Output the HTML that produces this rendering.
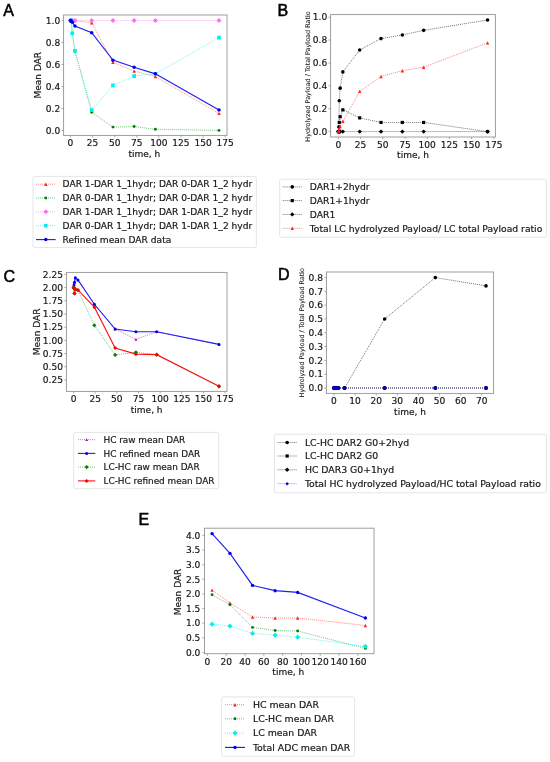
<!DOCTYPE html>
<html lang="en"><head><meta charset="utf-8"><title>Figure</title>
<style>
html,body{margin:0;padding:0;background:#fff;}
body{width:550px;height:762px;overflow:hidden;}
svg{display:block;font-family:"DejaVu Sans", "Liberation Sans", sans-serif;}
svg text{stroke:#1a1a1a;stroke-width:0.18px;}
</style></head><body>
<svg width="550" height="762" viewBox="0 0 550 762">
<rect width="550" height="762" fill="#fff"/>
<g>
<text x="3.3" y="16.1" font-family='"Liberation Sans", sans-serif' font-size="16" fill="#000" style="stroke:#000;stroke-width:0.55px">A</text>
<clipPath id="cA"><rect x="63.6" y="15" width="163.4" height="120.4"/></clipPath>
<polyline points="70.50,20.60 70.94,20.60 71.38,20.60 72.27,20.60 74.92,20.60 91.72,22.80 112.93,62.32 134.15,71.11 155.36,76.60 219.01,113.38" fill="none" stroke="#ff2020" stroke-width="0.7" stroke-dasharray="1 1" stroke-opacity="0.75"/>
<path d="M70.50 18.90L72.20 22.30L68.80 22.30Z" fill="#ff2020"/>
<path d="M70.94 18.90L72.64 22.30L69.24 22.30Z" fill="#ff2020"/>
<path d="M71.38 18.90L73.08 22.30L69.68 22.30Z" fill="#ff2020"/>
<path d="M72.27 18.90L73.97 22.30L70.57 22.30Z" fill="#ff2020"/>
<path d="M74.92 18.90L76.62 22.30L73.22 22.30Z" fill="#ff2020"/>
<path d="M91.72 21.10L93.42 24.50L90.02 24.50Z" fill="#ff2020"/>
<path d="M112.93 60.62L114.63 64.02L111.23 64.02Z" fill="#ff2020"/>
<path d="M134.15 69.41L135.85 72.81L132.45 72.81Z" fill="#ff2020"/>
<path d="M155.36 74.90L157.06 78.30L153.66 78.30Z" fill="#ff2020"/>
<path d="M219.01 111.68L220.71 115.08L217.31 115.08Z" fill="#ff2020"/>
<polyline points="70.50,20.60 70.94,20.60 71.38,20.60 72.27,33.78 74.92,51.34 91.72,112.28 112.93,127.11 134.15,126.56 155.36,129.30 219.01,130.40" fill="none" stroke="#109020" stroke-width="0.7" stroke-dasharray="1 1" stroke-opacity="0.8"/>
<circle cx="70.50" cy="20.60" r="1.45" fill="#008000"/>
<circle cx="70.94" cy="20.60" r="1.45" fill="#008000"/>
<circle cx="71.38" cy="20.60" r="1.45" fill="#008000"/>
<circle cx="72.27" cy="33.78" r="1.45" fill="#008000"/>
<circle cx="74.92" cy="51.34" r="1.45" fill="#008000"/>
<circle cx="91.72" cy="112.28" r="1.45" fill="#008000"/>
<circle cx="112.93" cy="127.11" r="1.45" fill="#008000"/>
<circle cx="134.15" cy="126.56" r="1.45" fill="#008000"/>
<circle cx="155.36" cy="129.30" r="1.45" fill="#008000"/>
<circle cx="219.01" cy="130.40" r="1.45" fill="#008000"/>
<polyline points="70.50,20.60 70.94,20.60 71.38,20.60 72.27,20.60 74.92,20.60 91.72,20.60 112.93,20.60 134.15,20.60 155.36,20.60 219.01,20.60" fill="none" stroke="#ff70ee" stroke-width="0.7" stroke-dasharray="1 1" stroke-opacity="0.8"/>
<path d="M70.50 18.10L73.00 20.60L70.50 23.10L68.00 20.60Z" fill="#ff6cf0"/>
<path d="M70.94 18.10L73.44 20.60L70.94 23.10L68.44 20.60Z" fill="#ff6cf0"/>
<path d="M71.38 18.10L73.88 20.60L71.38 23.10L68.88 20.60Z" fill="#ff6cf0"/>
<path d="M72.27 18.10L74.77 20.60L72.27 23.10L69.77 20.60Z" fill="#ff6cf0"/>
<path d="M74.92 18.10L77.42 20.60L74.92 23.10L72.42 20.60Z" fill="#ff6cf0"/>
<path d="M91.72 18.10L94.22 20.60L91.72 23.10L89.22 20.60Z" fill="#ff6cf0"/>
<path d="M112.93 18.10L115.43 20.60L112.93 23.10L110.43 20.60Z" fill="#ff6cf0"/>
<path d="M134.15 18.10L136.65 20.60L134.15 23.10L131.65 20.60Z" fill="#ff6cf0"/>
<path d="M155.36 18.10L157.86 20.60L155.36 23.10L152.86 20.60Z" fill="#ff6cf0"/>
<path d="M219.01 18.10L221.51 20.60L219.01 23.10L216.51 20.60Z" fill="#ff6cf0"/>
<polyline points="70.50,20.60 70.94,20.60 71.38,20.60 72.27,33.23 74.92,50.80 91.72,110.09 112.93,85.38 134.15,76.05 155.36,73.85 219.01,37.62" fill="none" stroke="#20f0f0" stroke-width="0.7" stroke-dasharray="1 1" stroke-opacity="0.9"/>
<rect x="68.65" y="18.75" width="3.70" height="3.70" fill="#00f0f0"/>
<rect x="69.09" y="18.75" width="3.70" height="3.70" fill="#00f0f0"/>
<rect x="69.53" y="18.75" width="3.70" height="3.70" fill="#00f0f0"/>
<rect x="70.42" y="31.38" width="3.70" height="3.70" fill="#00f0f0"/>
<rect x="73.07" y="48.95" width="3.70" height="3.70" fill="#00f0f0"/>
<rect x="89.87" y="108.24" width="3.70" height="3.70" fill="#00f0f0"/>
<rect x="111.08" y="83.53" width="3.70" height="3.70" fill="#00f0f0"/>
<rect x="132.30" y="74.20" width="3.70" height="3.70" fill="#00f0f0"/>
<rect x="153.51" y="72.00" width="3.70" height="3.70" fill="#00f0f0"/>
<rect x="217.16" y="35.77" width="3.70" height="3.70" fill="#00f0f0"/>
<polyline points="70.50,20.60 70.94,20.60 71.38,21.15 72.27,22.25 74.92,26.09 91.72,32.68 112.93,60.13 134.15,67.27 155.36,73.85 219.01,110.09" fill="none" stroke="#1c1cf0" stroke-width="1.1" stroke-opacity="1"/>
<circle cx="70.50" cy="20.60" r="1.75" fill="#0000f0"/>
<circle cx="70.94" cy="20.60" r="1.75" fill="#0000f0"/>
<circle cx="71.38" cy="21.15" r="1.75" fill="#0000f0"/>
<circle cx="72.27" cy="22.25" r="1.75" fill="#0000f0"/>
<circle cx="74.92" cy="26.09" r="1.75" fill="#0000f0"/>
<circle cx="91.72" cy="32.68" r="1.75" fill="#0000f0"/>
<circle cx="112.93" cy="60.13" r="1.75" fill="#0000f0"/>
<circle cx="134.15" cy="67.27" r="1.75" fill="#0000f0"/>
<circle cx="155.36" cy="73.85" r="1.75" fill="#0000f0"/>
<circle cx="219.01" cy="110.09" r="1.75" fill="#0000f0"/>
<rect x="63.6" y="15" width="163.40" height="120.40" fill="none" stroke="#949494" stroke-width="0.9"/>
<line x1="70.50" y1="135.4" x2="70.50" y2="137.5" stroke="#949494" stroke-width="0.8"/>
<text x="70.50" y="146.20" font-size="9.05" text-anchor="middle" fill="#141414">0</text>
<line x1="92.60" y1="135.4" x2="92.60" y2="137.5" stroke="#949494" stroke-width="0.8"/>
<text x="92.60" y="146.20" font-size="9.05" text-anchor="middle" fill="#141414">25</text>
<line x1="114.70" y1="135.4" x2="114.70" y2="137.5" stroke="#949494" stroke-width="0.8"/>
<text x="114.70" y="146.20" font-size="9.05" text-anchor="middle" fill="#141414">50</text>
<line x1="136.80" y1="135.4" x2="136.80" y2="137.5" stroke="#949494" stroke-width="0.8"/>
<text x="136.80" y="146.20" font-size="9.05" text-anchor="middle" fill="#141414">75</text>
<line x1="158.90" y1="135.4" x2="158.90" y2="137.5" stroke="#949494" stroke-width="0.8"/>
<text x="158.90" y="146.20" font-size="9.05" text-anchor="middle" fill="#141414">100</text>
<line x1="181.00" y1="135.4" x2="181.00" y2="137.5" stroke="#949494" stroke-width="0.8"/>
<text x="181.00" y="146.20" font-size="9.05" text-anchor="middle" fill="#141414">125</text>
<line x1="203.10" y1="135.4" x2="203.10" y2="137.5" stroke="#949494" stroke-width="0.8"/>
<text x="203.10" y="146.20" font-size="9.05" text-anchor="middle" fill="#141414">150</text>
<line x1="225.20" y1="135.4" x2="225.20" y2="137.5" stroke="#949494" stroke-width="0.8"/>
<text x="225.20" y="146.20" font-size="9.05" text-anchor="middle" fill="#141414">175</text>
<line x1="61.5" y1="130.40" x2="63.6" y2="130.40" stroke="#949494" stroke-width="0.8"/>
<text x="60.20" y="133.66" font-size="9.05" text-anchor="end" fill="#141414">0.0</text>
<line x1="61.5" y1="108.44" x2="63.6" y2="108.44" stroke="#949494" stroke-width="0.8"/>
<text x="60.20" y="111.70" font-size="9.05" text-anchor="end" fill="#141414">0.2</text>
<line x1="61.5" y1="86.48" x2="63.6" y2="86.48" stroke="#949494" stroke-width="0.8"/>
<text x="60.20" y="89.74" font-size="9.05" text-anchor="end" fill="#141414">0.4</text>
<line x1="61.5" y1="64.52" x2="63.6" y2="64.52" stroke="#949494" stroke-width="0.8"/>
<text x="60.20" y="67.78" font-size="9.05" text-anchor="end" fill="#141414">0.6</text>
<line x1="61.5" y1="42.56" x2="63.6" y2="42.56" stroke="#949494" stroke-width="0.8"/>
<text x="60.20" y="45.82" font-size="9.05" text-anchor="end" fill="#141414">0.8</text>
<line x1="61.5" y1="20.60" x2="63.6" y2="20.60" stroke="#949494" stroke-width="0.8"/>
<text x="60.20" y="23.86" font-size="9.05" text-anchor="end" fill="#141414">1.0</text>
<text x="144.40" y="156.6" font-size="9" text-anchor="middle" fill="#141414">time, h</text>
<text transform="translate(41.4 75.20) rotate(-90)" font-size="9" text-anchor="middle" fill="#141414">Mean DAR</text>
<rect x="33" y="176.4" width="223.40" height="71.20" rx="1.8" fill="#fff" stroke="#dedede" stroke-width="0.8"/>
<line x1="36" y1="184.2" x2="55.6" y2="184.2" stroke="#ff2020" stroke-width="0.7" stroke-dasharray="1 1" stroke-opacity="0.75"/>
<path d="M45.80 182.50L47.50 185.90L44.10 185.90Z" fill="#ff2020"/>
<text x="62.6" y="187.48" font-size="9.1" fill="#141414">DAR 1-DAR 1_1hydr; DAR 0-DAR 1_2 hydr</text>
<line x1="36" y1="198.0" x2="55.6" y2="198.0" stroke="#109020" stroke-width="0.7" stroke-dasharray="1 1" stroke-opacity="0.8"/>
<circle cx="45.80" cy="198.00" r="1.45" fill="#008000"/>
<text x="62.6" y="201.28" font-size="9.1" fill="#141414">DAR 0-DAR 1_1hydr; DAR 0-DAR 1_2 hydr</text>
<line x1="36" y1="211.8" x2="55.6" y2="211.8" stroke="#ff70ee" stroke-width="0.7" stroke-dasharray="1 1" stroke-opacity="0.8"/>
<path d="M45.80 209.30L48.30 211.80L45.80 214.30L43.30 211.80Z" fill="#ff6cf0"/>
<text x="62.6" y="215.08" font-size="9.1" fill="#141414">DAR 1-DAR 1_1hydr; DAR 1-DAR 1_2 hydr</text>
<line x1="36" y1="225.7" x2="55.6" y2="225.7" stroke="#20f0f0" stroke-width="0.7" stroke-dasharray="1 1" stroke-opacity="0.9"/>
<rect x="43.95" y="223.85" width="3.70" height="3.70" fill="#00f0f0"/>
<text x="62.6" y="228.98" font-size="9.1" fill="#141414">DAR 0-DAR 1_1hydr; DAR 1-DAR 1_2 hydr</text>
<line x1="36" y1="239.6" x2="55.6" y2="239.6" stroke="#1c1cf0" stroke-width="1.1" stroke-opacity="1"/>
<circle cx="45.80" cy="239.60" r="1.75" fill="#0000f0"/>
<text x="62.6" y="242.88" font-size="9.1" fill="#141414">Refined mean DAR data</text>
</g>
<g>
<text x="277.6" y="15.9" font-family='"Liberation Sans", sans-serif' font-size="16" fill="#000" style="stroke:#000;stroke-width:0.55px">B</text>
<clipPath id="cB"><rect x="330.6" y="14.6" width="164.79999999999995" height="122.4"/></clipPath>
<polyline points="338.40,131.60 338.84,127.02 339.29,100.71 340.18,88.13 342.84,71.88 359.71,50.03 381.02,38.59 402.34,34.93 423.65,30.36 487.58,19.95" fill="none" stroke="#000" stroke-width="0.7" stroke-dasharray="1 1" stroke-opacity="0.8"/>
<circle cx="338.40" cy="131.60" r="1.80" fill="#000"/>
<circle cx="338.84" cy="127.02" r="1.80" fill="#000"/>
<circle cx="339.29" cy="100.71" r="1.80" fill="#000"/>
<circle cx="340.18" cy="88.13" r="1.80" fill="#000"/>
<circle cx="342.84" cy="71.88" r="1.80" fill="#000"/>
<circle cx="359.71" cy="50.03" r="1.80" fill="#000"/>
<circle cx="381.02" cy="38.59" r="1.80" fill="#000"/>
<circle cx="402.34" cy="34.93" r="1.80" fill="#000"/>
<circle cx="423.65" cy="30.36" r="1.80" fill="#000"/>
<circle cx="487.58" cy="19.95" r="1.80" fill="#000"/>
<polyline points="338.40,131.60 338.84,131.60 339.29,122.45 340.18,116.73 342.84,109.86 359.71,117.87 381.02,122.45 402.34,122.45 423.65,122.45 487.58,131.60" fill="none" stroke="#000" stroke-width="0.7" stroke-dasharray="1 1" stroke-opacity="0.8"/>
<rect x="336.80" y="130.00" width="3.20" height="3.20" fill="#000"/>
<rect x="337.24" y="130.00" width="3.20" height="3.20" fill="#000"/>
<rect x="337.69" y="120.85" width="3.20" height="3.20" fill="#000"/>
<rect x="338.58" y="115.13" width="3.20" height="3.20" fill="#000"/>
<rect x="341.24" y="108.26" width="3.20" height="3.20" fill="#000"/>
<rect x="358.11" y="116.27" width="3.20" height="3.20" fill="#000"/>
<rect x="379.42" y="120.85" width="3.20" height="3.20" fill="#000"/>
<rect x="400.74" y="120.85" width="3.20" height="3.20" fill="#000"/>
<rect x="422.05" y="120.85" width="3.20" height="3.20" fill="#000"/>
<rect x="485.98" y="130.00" width="3.20" height="3.20" fill="#000"/>
<polyline points="338.40,131.60 338.84,131.60 339.29,131.60 340.18,131.60 342.84,131.60 359.71,131.60 381.02,131.60 402.34,131.60 423.65,131.60 487.58,131.60" fill="none" stroke="#000" stroke-width="0.7" stroke-dasharray="1 1" stroke-opacity="0.8"/>
<path d="M338.40 129.40L340.60 131.60L338.40 133.80L336.20 131.60Z" fill="#000"/>
<path d="M338.84 129.40L341.04 131.60L338.84 133.80L336.64 131.60Z" fill="#000"/>
<path d="M339.29 129.40L341.49 131.60L339.29 133.80L337.09 131.60Z" fill="#000"/>
<path d="M340.18 129.40L342.38 131.60L340.18 133.80L337.98 131.60Z" fill="#000"/>
<path d="M342.84 129.40L345.04 131.60L342.84 133.80L340.64 131.60Z" fill="#000"/>
<path d="M359.71 129.40L361.91 131.60L359.71 133.80L357.51 131.60Z" fill="#000"/>
<path d="M381.02 129.40L383.22 131.60L381.02 133.80L378.82 131.60Z" fill="#000"/>
<path d="M402.34 129.40L404.54 131.60L402.34 133.80L400.14 131.60Z" fill="#000"/>
<path d="M423.65 129.40L425.85 131.60L423.65 133.80L421.45 131.60Z" fill="#000"/>
<path d="M487.58 129.40L489.78 131.60L487.58 133.80L485.38 131.60Z" fill="#000"/>
<polyline points="338.40,131.60 338.84,130.46 339.29,128.17 340.18,126.45 342.84,121.30 359.71,91.33 381.02,76.46 402.34,70.74 423.65,67.19 487.58,42.83" fill="none" stroke="#ff2020" stroke-width="0.7" stroke-dasharray="1 1" stroke-opacity="0.8"/>
<path d="M338.40 129.90L340.10 133.30L336.70 133.30Z" fill="#ff2020"/>
<path d="M338.84 128.76L340.54 132.16L337.14 132.16Z" fill="#ff2020"/>
<path d="M339.29 126.47L340.99 129.87L337.59 129.87Z" fill="#ff2020"/>
<path d="M340.18 124.75L341.88 128.15L338.48 128.15Z" fill="#ff2020"/>
<path d="M342.84 119.60L344.54 123.00L341.14 123.00Z" fill="#ff2020"/>
<path d="M359.71 89.63L361.41 93.03L358.01 93.03Z" fill="#ff2020"/>
<path d="M381.02 74.76L382.72 78.16L379.32 78.16Z" fill="#ff2020"/>
<path d="M402.34 69.04L404.04 72.44L400.64 72.44Z" fill="#ff2020"/>
<path d="M423.65 65.49L425.35 68.89L421.95 68.89Z" fill="#ff2020"/>
<path d="M487.58 41.13L489.28 44.53L485.88 44.53Z" fill="#ff2020"/>
<rect x="330.6" y="14.6" width="164.80" height="122.40" fill="none" stroke="#949494" stroke-width="0.9"/>
<line x1="338.40" y1="137" x2="338.40" y2="139.1" stroke="#949494" stroke-width="0.8"/>
<text x="338.40" y="148.10" font-size="9.05" text-anchor="middle" fill="#141414">0</text>
<line x1="360.60" y1="137" x2="360.60" y2="139.1" stroke="#949494" stroke-width="0.8"/>
<text x="360.60" y="148.10" font-size="9.05" text-anchor="middle" fill="#141414">25</text>
<line x1="382.80" y1="137" x2="382.80" y2="139.1" stroke="#949494" stroke-width="0.8"/>
<text x="382.80" y="148.10" font-size="9.05" text-anchor="middle" fill="#141414">50</text>
<line x1="405.00" y1="137" x2="405.00" y2="139.1" stroke="#949494" stroke-width="0.8"/>
<text x="405.00" y="148.10" font-size="9.05" text-anchor="middle" fill="#141414">75</text>
<line x1="427.20" y1="137" x2="427.20" y2="139.1" stroke="#949494" stroke-width="0.8"/>
<text x="427.20" y="148.10" font-size="9.05" text-anchor="middle" fill="#141414">100</text>
<line x1="449.40" y1="137" x2="449.40" y2="139.1" stroke="#949494" stroke-width="0.8"/>
<text x="449.40" y="148.10" font-size="9.05" text-anchor="middle" fill="#141414">125</text>
<line x1="471.60" y1="137" x2="471.60" y2="139.1" stroke="#949494" stroke-width="0.8"/>
<text x="471.60" y="148.10" font-size="9.05" text-anchor="middle" fill="#141414">150</text>
<line x1="493.80" y1="137" x2="493.80" y2="139.1" stroke="#949494" stroke-width="0.8"/>
<text x="493.80" y="148.10" font-size="9.05" text-anchor="middle" fill="#141414">175</text>
<line x1="328.5" y1="131.60" x2="330.6" y2="131.60" stroke="#949494" stroke-width="0.8"/>
<text x="327.20" y="134.86" font-size="9.05" text-anchor="end" fill="#141414">0.0</text>
<line x1="328.5" y1="108.72" x2="330.6" y2="108.72" stroke="#949494" stroke-width="0.8"/>
<text x="327.20" y="111.98" font-size="9.05" text-anchor="end" fill="#141414">0.2</text>
<line x1="328.5" y1="85.84" x2="330.6" y2="85.84" stroke="#949494" stroke-width="0.8"/>
<text x="327.20" y="89.10" font-size="9.05" text-anchor="end" fill="#141414">0.4</text>
<line x1="328.5" y1="62.96" x2="330.6" y2="62.96" stroke="#949494" stroke-width="0.8"/>
<text x="327.20" y="66.22" font-size="9.05" text-anchor="end" fill="#141414">0.6</text>
<line x1="328.5" y1="40.08" x2="330.6" y2="40.08" stroke="#949494" stroke-width="0.8"/>
<text x="327.20" y="43.34" font-size="9.05" text-anchor="end" fill="#141414">0.8</text>
<line x1="328.5" y1="17.20" x2="330.6" y2="17.20" stroke="#949494" stroke-width="0.8"/>
<text x="327.20" y="20.46" font-size="9.05" text-anchor="end" fill="#141414">1.0</text>
<text x="413.00" y="158.1" font-size="9" text-anchor="middle" fill="#141414">time, h</text>
<text transform="translate(309.5 76.50) rotate(-90)" font-size="6.45" text-anchor="middle" fill="#141414" style="stroke-width:0.05px">Hydrolyzed Payload / Total Payload Ratio</text>
<rect x="279.7" y="179.2" width="266.80" height="58.10" rx="1.8" fill="#fff" stroke="#dedede" stroke-width="0.8"/>
<line x1="282.7" y1="186.9" x2="301.8" y2="186.9" stroke="#000" stroke-width="0.7" stroke-dasharray="1 1" stroke-opacity="0.8"/>
<circle cx="292.25" cy="186.90" r="1.80" fill="#000"/>
<text x="309.8" y="190.21" font-size="9.2" fill="#141414">DAR1+2hydr</text>
<line x1="282.7" y1="200.6" x2="301.8" y2="200.6" stroke="#000" stroke-width="0.7" stroke-dasharray="1 1" stroke-opacity="0.8"/>
<rect x="290.65" y="199.00" width="3.20" height="3.20" fill="#000"/>
<text x="309.8" y="203.91" font-size="9.2" fill="#141414">DAR1+1hydr</text>
<line x1="282.7" y1="214.4" x2="301.8" y2="214.4" stroke="#000" stroke-width="0.7" stroke-dasharray="1 1" stroke-opacity="0.8"/>
<path d="M292.25 212.20L294.45 214.40L292.25 216.60L290.05 214.40Z" fill="#000"/>
<text x="309.8" y="217.71" font-size="9.2" fill="#141414">DAR1</text>
<line x1="282.7" y1="228.3" x2="301.8" y2="228.3" stroke="#ff2020" stroke-width="0.7" stroke-dasharray="1 1" stroke-opacity="0.8"/>
<path d="M292.25 226.60L293.95 230.00L290.55 230.00Z" fill="#ff2020"/>
<text x="309.8" y="231.61" font-size="9.2" fill="#141414">Total LC hydrolyzed Payload/ LC total Payload ratio</text>
</g>
<g>
<text x="3.4" y="281.5" font-family='"Liberation Sans", sans-serif' font-size="16" fill="#000" style="stroke:#000;stroke-width:0.55px">C</text>
<clipPath id="cC"><rect x="66.4" y="272.4" width="160.6" height="119.0"/></clipPath>
<polyline points="73.60,287.60 74.03,284.96 74.47,282.32 75.33,277.83 77.93,279.94 94.37,304.23 115.14,329.05 135.92,339.34 156.69,331.69 219.00,344.41" fill="none" stroke="#a000a0" stroke-width="0.7" stroke-dasharray="1 1" stroke-opacity="0.8"/>
<path d="M73.60 286.20L75.00 289.00L72.20 289.00Z" fill="#a000a0"/>
<path d="M74.03 283.56L75.43 286.36L72.63 286.36Z" fill="#a000a0"/>
<path d="M74.47 280.92L75.87 283.72L73.07 283.72Z" fill="#a000a0"/>
<path d="M75.33 276.43L76.73 279.23L73.93 279.23Z" fill="#a000a0"/>
<path d="M77.93 278.54L79.33 281.34L76.53 281.34Z" fill="#a000a0"/>
<path d="M94.37 302.83L95.77 305.63L92.97 305.63Z" fill="#a000a0"/>
<path d="M115.14 327.65L116.54 330.45L113.74 330.45Z" fill="#a000a0"/>
<path d="M135.92 337.94L137.32 340.74L134.52 340.74Z" fill="#a000a0"/>
<path d="M156.69 330.29L158.09 333.09L155.29 333.09Z" fill="#a000a0"/>
<path d="M219.00 343.01L220.40 345.81L217.60 345.81Z" fill="#a000a0"/>
<polyline points="73.60,287.60 74.03,284.96 74.47,282.32 75.33,277.83 77.93,279.94 94.37,304.23 115.14,329.05 135.92,331.69 156.69,331.69 219.00,344.41" fill="none" stroke="#2020f0" stroke-width="1.1" stroke-opacity="1"/>
<circle cx="73.60" cy="287.60" r="1.50" fill="#0000f0"/>
<circle cx="74.03" cy="284.96" r="1.50" fill="#0000f0"/>
<circle cx="74.47" cy="282.32" r="1.50" fill="#0000f0"/>
<circle cx="75.33" cy="277.83" r="1.50" fill="#0000f0"/>
<circle cx="77.93" cy="279.94" r="1.50" fill="#0000f0"/>
<circle cx="94.37" cy="304.23" r="1.50" fill="#0000f0"/>
<circle cx="115.14" cy="329.05" r="1.50" fill="#0000f0"/>
<circle cx="135.92" cy="331.69" r="1.50" fill="#0000f0"/>
<circle cx="156.69" cy="331.69" r="1.50" fill="#0000f0"/>
<circle cx="219.00" cy="344.41" r="1.50" fill="#0000f0"/>
<polyline points="73.60,287.60 74.03,288.13 74.47,293.41 75.33,289.18 77.93,290.24 94.37,325.35 115.14,354.92 135.92,352.28 156.69,354.66 219.00,386.34" fill="none" stroke="#109020" stroke-width="0.7" stroke-dasharray="1 1" stroke-opacity="0.8"/>
<path d="M73.60 285.50L75.70 287.60L73.60 289.70L71.50 287.60Z" fill="#008000"/>
<path d="M74.03 286.03L76.13 288.13L74.03 290.23L71.93 288.13Z" fill="#008000"/>
<path d="M74.47 291.31L76.57 293.41L74.47 295.51L72.37 293.41Z" fill="#008000"/>
<path d="M75.33 287.08L77.43 289.18L75.33 291.28L73.23 289.18Z" fill="#008000"/>
<path d="M77.93 288.14L80.03 290.24L77.93 292.34L75.83 290.24Z" fill="#008000"/>
<path d="M94.37 323.25L96.47 325.35L94.37 327.45L92.27 325.35Z" fill="#008000"/>
<path d="M115.14 352.82L117.24 354.92L115.14 357.02L113.04 354.92Z" fill="#008000"/>
<path d="M135.92 350.18L138.02 352.28L135.92 354.38L133.82 352.28Z" fill="#008000"/>
<path d="M156.69 352.56L158.79 354.66L156.69 356.76L154.59 354.66Z" fill="#008000"/>
<path d="M219.00 384.24L221.10 386.34L219.00 388.44L216.90 386.34Z" fill="#008000"/>
<polyline points="73.60,287.60 74.03,288.13 74.47,293.41 75.33,289.18 77.93,289.98 94.37,307.14 115.14,348.06 135.92,354.13 156.69,354.66 219.00,386.34" fill="none" stroke="#ff1010" stroke-width="1.1" stroke-opacity="1"/>
<path d="M73.60 285.60L75.60 287.60L73.60 289.60L71.60 287.60Z" fill="#ff0000"/>
<path d="M74.03 286.13L76.03 288.13L74.03 290.13L72.03 288.13Z" fill="#ff0000"/>
<path d="M74.47 291.41L76.47 293.41L74.47 295.41L72.47 293.41Z" fill="#ff0000"/>
<path d="M75.33 287.18L77.33 289.18L75.33 291.18L73.33 289.18Z" fill="#ff0000"/>
<path d="M77.93 287.98L79.93 289.98L77.93 291.98L75.93 289.98Z" fill="#ff0000"/>
<path d="M94.37 305.14L96.37 307.14L94.37 309.14L92.37 307.14Z" fill="#ff0000"/>
<path d="M115.14 346.06L117.14 348.06L115.14 350.06L113.14 348.06Z" fill="#ff0000"/>
<path d="M135.92 352.13L137.92 354.13L135.92 356.13L133.92 354.13Z" fill="#ff0000"/>
<path d="M156.69 352.66L158.69 354.66L156.69 356.66L154.69 354.66Z" fill="#ff0000"/>
<path d="M219.00 384.34L221.00 386.34L219.00 388.34L217.00 386.34Z" fill="#ff0000"/>
<rect x="66.4" y="272.4" width="160.60" height="119.00" fill="none" stroke="#949494" stroke-width="0.9"/>
<line x1="73.60" y1="391.4" x2="73.60" y2="393.5" stroke="#949494" stroke-width="0.8"/>
<text x="73.60" y="402.20" font-size="9.05" text-anchor="middle" fill="#141414">0</text>
<line x1="95.24" y1="391.4" x2="95.24" y2="393.5" stroke="#949494" stroke-width="0.8"/>
<text x="95.24" y="402.20" font-size="9.05" text-anchor="middle" fill="#141414">25</text>
<line x1="116.88" y1="391.4" x2="116.88" y2="393.5" stroke="#949494" stroke-width="0.8"/>
<text x="116.88" y="402.20" font-size="9.05" text-anchor="middle" fill="#141414">50</text>
<line x1="138.51" y1="391.4" x2="138.51" y2="393.5" stroke="#949494" stroke-width="0.8"/>
<text x="138.51" y="402.20" font-size="9.05" text-anchor="middle" fill="#141414">75</text>
<line x1="160.15" y1="391.4" x2="160.15" y2="393.5" stroke="#949494" stroke-width="0.8"/>
<text x="160.15" y="402.20" font-size="9.05" text-anchor="middle" fill="#141414">100</text>
<line x1="181.79" y1="391.4" x2="181.79" y2="393.5" stroke="#949494" stroke-width="0.8"/>
<text x="181.79" y="402.20" font-size="9.05" text-anchor="middle" fill="#141414">125</text>
<line x1="203.43" y1="391.4" x2="203.43" y2="393.5" stroke="#949494" stroke-width="0.8"/>
<text x="203.43" y="402.20" font-size="9.05" text-anchor="middle" fill="#141414">150</text>
<line x1="225.06" y1="391.4" x2="225.06" y2="393.5" stroke="#949494" stroke-width="0.8"/>
<text x="225.06" y="402.20" font-size="9.05" text-anchor="middle" fill="#141414">175</text>
<line x1="64.30000000000001" y1="380.00" x2="66.4" y2="380.00" stroke="#949494" stroke-width="0.8"/>
<text x="63.00" y="383.26" font-size="9.05" text-anchor="end" fill="#141414">0.25</text>
<line x1="64.30000000000001" y1="366.80" x2="66.4" y2="366.80" stroke="#949494" stroke-width="0.8"/>
<text x="63.00" y="370.06" font-size="9.05" text-anchor="end" fill="#141414">0.50</text>
<line x1="64.30000000000001" y1="353.60" x2="66.4" y2="353.60" stroke="#949494" stroke-width="0.8"/>
<text x="63.00" y="356.86" font-size="9.05" text-anchor="end" fill="#141414">0.75</text>
<line x1="64.30000000000001" y1="340.40" x2="66.4" y2="340.40" stroke="#949494" stroke-width="0.8"/>
<text x="63.00" y="343.66" font-size="9.05" text-anchor="end" fill="#141414">1.00</text>
<line x1="64.30000000000001" y1="327.20" x2="66.4" y2="327.20" stroke="#949494" stroke-width="0.8"/>
<text x="63.00" y="330.46" font-size="9.05" text-anchor="end" fill="#141414">1.25</text>
<line x1="64.30000000000001" y1="314.00" x2="66.4" y2="314.00" stroke="#949494" stroke-width="0.8"/>
<text x="63.00" y="317.26" font-size="9.05" text-anchor="end" fill="#141414">1.50</text>
<line x1="64.30000000000001" y1="300.80" x2="66.4" y2="300.80" stroke="#949494" stroke-width="0.8"/>
<text x="63.00" y="304.06" font-size="9.05" text-anchor="end" fill="#141414">1.75</text>
<line x1="64.30000000000001" y1="287.60" x2="66.4" y2="287.60" stroke="#949494" stroke-width="0.8"/>
<text x="63.00" y="290.86" font-size="9.05" text-anchor="end" fill="#141414">2.00</text>
<line x1="64.30000000000001" y1="274.40" x2="66.4" y2="274.40" stroke="#949494" stroke-width="0.8"/>
<text x="63.00" y="277.66" font-size="9.05" text-anchor="end" fill="#141414">2.25</text>
<text x="146.70" y="412.5" font-size="9" text-anchor="middle" fill="#141414">time, h</text>
<text transform="translate(39.5 331.90) rotate(-90)" font-size="9" text-anchor="middle" fill="#141414">Mean DAR</text>
<rect x="73.7" y="432.4" width="145.00" height="56.30" rx="1.8" fill="#fff" stroke="#dedede" stroke-width="0.8"/>
<line x1="78" y1="439.7" x2="95.3" y2="439.7" stroke="#a000a0" stroke-width="0.7" stroke-dasharray="1 1" stroke-opacity="0.8"/>
<path d="M86.65 438.30L88.05 441.10L85.25 441.10Z" fill="#a000a0"/>
<text x="103.5" y="442.90" font-size="8.9" fill="#141414">HC raw mean DAR</text>
<line x1="78" y1="453.4" x2="95.3" y2="453.4" stroke="#2020f0" stroke-width="1.1" stroke-opacity="1"/>
<circle cx="86.65" cy="453.40" r="1.50" fill="#0000f0"/>
<text x="103.5" y="456.60" font-size="8.9" fill="#141414">HC refined mean DAR</text>
<line x1="78" y1="467.1" x2="95.3" y2="467.1" stroke="#109020" stroke-width="0.7" stroke-dasharray="1 1" stroke-opacity="0.8"/>
<path d="M86.65 465.00L88.75 467.10L86.65 469.20L84.55 467.10Z" fill="#008000"/>
<text x="103.5" y="470.30" font-size="8.9" fill="#141414">LC-HC raw mean DAR</text>
<line x1="78" y1="480.9" x2="95.3" y2="480.9" stroke="#ff1010" stroke-width="1.1" stroke-opacity="1"/>
<path d="M86.65 478.90L88.65 480.90L86.65 482.90L84.65 480.90Z" fill="#ff0000"/>
<text x="103.5" y="484.10" font-size="8.9" fill="#141414">LC-HC refined mean DAR</text>
</g>
<g>
<text x="278.0" y="280.2" font-family='"Liberation Sans", sans-serif' font-size="16" fill="#000" style="stroke:#000;stroke-width:0.55px">D</text>
<clipPath id="cD"><rect x="326.4" y="272" width="167.20000000000005" height="121.39999999999998"/></clipPath>
<polyline points="334.00,388.00 335.06,388.00 336.11,388.00 338.22,388.00 344.56,388.00 384.66,319.00 435.33,277.60 485.99,285.88" fill="none" stroke="#000" stroke-width="0.7" stroke-dasharray="1 1" stroke-opacity="0.8"/>
<circle cx="334.00" cy="388.00" r="1.80" fill="#000"/>
<circle cx="335.06" cy="388.00" r="1.80" fill="#000"/>
<circle cx="336.11" cy="388.00" r="1.80" fill="#000"/>
<circle cx="338.22" cy="388.00" r="1.80" fill="#000"/>
<circle cx="344.56" cy="388.00" r="1.80" fill="#000"/>
<circle cx="384.66" cy="319.00" r="1.80" fill="#000"/>
<circle cx="435.33" cy="277.60" r="1.80" fill="#000"/>
<circle cx="485.99" cy="285.88" r="1.80" fill="#000"/>
<polyline points="334.00,388.00 335.06,388.00 336.11,388.00 338.22,388.00 344.56,388.00 384.66,388.00 435.33,388.00 485.99,388.00" fill="none" stroke="#000" stroke-width="0.7" stroke-dasharray="1 1" stroke-opacity="0.8"/>
<rect x="332.40" y="386.40" width="3.20" height="3.20" fill="#000"/>
<rect x="333.46" y="386.40" width="3.20" height="3.20" fill="#000"/>
<rect x="334.51" y="386.40" width="3.20" height="3.20" fill="#000"/>
<rect x="336.62" y="386.40" width="3.20" height="3.20" fill="#000"/>
<rect x="342.95" y="386.40" width="3.20" height="3.20" fill="#000"/>
<rect x="383.06" y="386.40" width="3.20" height="3.20" fill="#000"/>
<rect x="433.73" y="386.40" width="3.20" height="3.20" fill="#000"/>
<rect x="484.39" y="386.40" width="3.20" height="3.20" fill="#000"/>
<polyline points="334.00,388.00 335.06,388.00 336.11,388.00 338.22,388.00 344.56,388.00 384.66,388.00 435.33,388.00 485.99,388.00" fill="none" stroke="#000" stroke-width="0.7" stroke-dasharray="1 1" stroke-opacity="0.8"/>
<path d="M334.00 385.80L336.20 388.00L334.00 390.20L331.80 388.00Z" fill="#000"/>
<path d="M335.06 385.80L337.26 388.00L335.06 390.20L332.86 388.00Z" fill="#000"/>
<path d="M336.11 385.80L338.31 388.00L336.11 390.20L333.91 388.00Z" fill="#000"/>
<path d="M338.22 385.80L340.42 388.00L338.22 390.20L336.02 388.00Z" fill="#000"/>
<path d="M344.56 385.80L346.75 388.00L344.56 390.20L342.36 388.00Z" fill="#000"/>
<path d="M384.66 385.80L386.86 388.00L384.66 390.20L382.46 388.00Z" fill="#000"/>
<path d="M435.33 385.80L437.53 388.00L435.33 390.20L433.13 388.00Z" fill="#000"/>
<path d="M485.99 385.80L488.19 388.00L485.99 390.20L483.79 388.00Z" fill="#000"/>
<polyline points="334.00,388.00 335.06,388.00 336.11,388.00 338.22,388.00 344.56,388.00 384.66,388.00 435.33,388.00 485.99,388.00" fill="none" stroke="#7070ff" stroke-width="1.2" stroke-dasharray="1 1" stroke-opacity="0.5"/>
<circle cx="334.00" cy="388.00" r="1.80" fill="#0000d8"/>
<circle cx="335.06" cy="388.00" r="1.80" fill="#0000d8"/>
<circle cx="336.11" cy="388.00" r="1.80" fill="#0000d8"/>
<circle cx="338.22" cy="388.00" r="1.80" fill="#0000d8"/>
<circle cx="344.56" cy="388.00" r="1.80" fill="#0000d8"/>
<circle cx="384.66" cy="388.00" r="1.80" fill="#0000d8"/>
<circle cx="435.33" cy="388.00" r="1.80" fill="#0000d8"/>
<circle cx="485.99" cy="388.00" r="1.80" fill="#0000d8"/>
<rect x="326.4" y="272" width="167.20" height="121.40" fill="none" stroke="#949494" stroke-width="0.9"/>
<line x1="334.00" y1="393.4" x2="334.00" y2="395.5" stroke="#949494" stroke-width="0.8"/>
<text x="334.00" y="404.20" font-size="9.05" text-anchor="middle" fill="#141414">0</text>
<line x1="355.11" y1="393.4" x2="355.11" y2="395.5" stroke="#949494" stroke-width="0.8"/>
<text x="355.11" y="404.20" font-size="9.05" text-anchor="middle" fill="#141414">10</text>
<line x1="376.22" y1="393.4" x2="376.22" y2="395.5" stroke="#949494" stroke-width="0.8"/>
<text x="376.22" y="404.20" font-size="9.05" text-anchor="middle" fill="#141414">20</text>
<line x1="397.33" y1="393.4" x2="397.33" y2="395.5" stroke="#949494" stroke-width="0.8"/>
<text x="397.33" y="404.20" font-size="9.05" text-anchor="middle" fill="#141414">30</text>
<line x1="418.44" y1="393.4" x2="418.44" y2="395.5" stroke="#949494" stroke-width="0.8"/>
<text x="418.44" y="404.20" font-size="9.05" text-anchor="middle" fill="#141414">40</text>
<line x1="439.55" y1="393.4" x2="439.55" y2="395.5" stroke="#949494" stroke-width="0.8"/>
<text x="439.55" y="404.20" font-size="9.05" text-anchor="middle" fill="#141414">50</text>
<line x1="460.66" y1="393.4" x2="460.66" y2="395.5" stroke="#949494" stroke-width="0.8"/>
<text x="460.66" y="404.20" font-size="9.05" text-anchor="middle" fill="#141414">60</text>
<line x1="481.77" y1="393.4" x2="481.77" y2="395.5" stroke="#949494" stroke-width="0.8"/>
<text x="481.77" y="404.20" font-size="9.05" text-anchor="middle" fill="#141414">70</text>
<line x1="324.29999999999995" y1="388.00" x2="326.4" y2="388.00" stroke="#949494" stroke-width="0.8"/>
<text x="323.00" y="391.26" font-size="9.05" text-anchor="end" fill="#141414">0.0</text>
<line x1="324.29999999999995" y1="374.20" x2="326.4" y2="374.20" stroke="#949494" stroke-width="0.8"/>
<text x="323.00" y="377.46" font-size="9.05" text-anchor="end" fill="#141414">0.1</text>
<line x1="324.29999999999995" y1="360.40" x2="326.4" y2="360.40" stroke="#949494" stroke-width="0.8"/>
<text x="323.00" y="363.66" font-size="9.05" text-anchor="end" fill="#141414">0.2</text>
<line x1="324.29999999999995" y1="346.60" x2="326.4" y2="346.60" stroke="#949494" stroke-width="0.8"/>
<text x="323.00" y="349.86" font-size="9.05" text-anchor="end" fill="#141414">0.3</text>
<line x1="324.29999999999995" y1="332.80" x2="326.4" y2="332.80" stroke="#949494" stroke-width="0.8"/>
<text x="323.00" y="336.06" font-size="9.05" text-anchor="end" fill="#141414">0.4</text>
<line x1="324.29999999999995" y1="319.00" x2="326.4" y2="319.00" stroke="#949494" stroke-width="0.8"/>
<text x="323.00" y="322.26" font-size="9.05" text-anchor="end" fill="#141414">0.5</text>
<line x1="324.29999999999995" y1="305.20" x2="326.4" y2="305.20" stroke="#949494" stroke-width="0.8"/>
<text x="323.00" y="308.46" font-size="9.05" text-anchor="end" fill="#141414">0.6</text>
<line x1="324.29999999999995" y1="291.40" x2="326.4" y2="291.40" stroke="#949494" stroke-width="0.8"/>
<text x="323.00" y="294.66" font-size="9.05" text-anchor="end" fill="#141414">0.7</text>
<line x1="324.29999999999995" y1="277.60" x2="326.4" y2="277.60" stroke="#949494" stroke-width="0.8"/>
<text x="323.00" y="280.86" font-size="9.05" text-anchor="end" fill="#141414">0.8</text>
<text x="410.00" y="414.5" font-size="9" text-anchor="middle" fill="#141414">time, h</text>
<text transform="translate(304.4 332.70) rotate(-90)" font-size="6.4" text-anchor="middle" fill="#141414" style="stroke-width:0.05px">Hydrolyzed Payload / Total Payload Ratio</text>
<rect x="274.4" y="434.2" width="272.10" height="58.60" rx="1.8" fill="#fff" stroke="#dedede" stroke-width="0.8"/>
<line x1="277.6" y1="442.5" x2="296.7" y2="442.5" stroke="#000" stroke-width="0.7" stroke-dasharray="1 1" stroke-opacity="0.8"/>
<circle cx="287.15" cy="442.50" r="1.80" fill="#000"/>
<text x="304.9" y="445.85" font-size="9.3" fill="#141414">LC-HC DAR2 G0+2hyd</text>
<line x1="277.6" y1="456.0" x2="296.7" y2="456.0" stroke="#000" stroke-width="0.7" stroke-dasharray="1 1" stroke-opacity="0.8"/>
<rect x="285.55" y="454.40" width="3.20" height="3.20" fill="#000"/>
<text x="304.9" y="459.35" font-size="9.3" fill="#141414">LC-HC DAR2 G0</text>
<line x1="277.6" y1="469.8" x2="296.7" y2="469.8" stroke="#000" stroke-width="0.7" stroke-dasharray="1 1" stroke-opacity="0.8"/>
<path d="M287.15 467.60L289.35 469.80L287.15 472.00L284.95 469.80Z" fill="#000"/>
<text x="304.9" y="473.15" font-size="9.3" fill="#141414">HC DAR3 G0+1hyd</text>
<line x1="277.6" y1="483.7" x2="296.7" y2="483.7" stroke="#4848ff" stroke-width="0.7" stroke-dasharray="1 1" stroke-opacity="0.85"/>
<path d="M287.15 482.00L288.85 483.70L287.15 485.40L285.45 483.70Z" fill="#0000d8"/>
<text x="304.9" y="487.05" font-size="9.3" fill="#141414">Total HC hydrolyzed Payload/HC total Payload ratio</text>
</g>
<g>
<text x="138.6" y="525.1" font-family='"Liberation Sans", sans-serif' font-size="16" fill="#000" style="stroke:#000;stroke-width:0.55px">E</text>
<clipPath id="cE"><rect x="204.5" y="528.2" width="169.5" height="125.5"/></clipPath>
<polyline points="212.10,590.10 229.97,602.97 252.54,617.01 275.12,618.00 297.69,618.00 365.40,625.49" fill="none" stroke="#ff2020" stroke-width="0.7" stroke-dasharray="1 1" stroke-opacity="0.8"/>
<path d="M212.10 588.40L213.80 591.80L210.40 591.80Z" fill="#ff2020"/>
<path d="M229.97 601.27L231.67 604.67L228.27 604.67Z" fill="#ff2020"/>
<path d="M252.54 615.31L254.24 618.71L250.84 618.71Z" fill="#ff2020"/>
<path d="M275.12 616.30L276.82 619.70L273.42 619.70Z" fill="#ff2020"/>
<path d="M297.69 616.30L299.39 619.70L295.99 619.70Z" fill="#ff2020"/>
<path d="M365.40 623.79L367.10 627.19L363.70 627.19Z" fill="#ff2020"/>
<polyline points="212.10,594.78 229.97,604.72 252.54,627.39 275.12,630.46 297.69,631.05 365.40,648.39" fill="none" stroke="#109020" stroke-width="0.7" stroke-dasharray="1 1" stroke-opacity="0.8"/>
<circle cx="212.10" cy="594.78" r="1.45" fill="#008000"/>
<circle cx="229.97" cy="604.72" r="1.45" fill="#008000"/>
<circle cx="252.54" cy="627.39" r="1.45" fill="#008000"/>
<circle cx="275.12" cy="630.46" r="1.45" fill="#008000"/>
<circle cx="297.69" cy="631.05" r="1.45" fill="#008000"/>
<circle cx="365.40" cy="648.39" r="1.45" fill="#008000"/>
<polyline points="212.10,624.20 229.97,626.07 252.54,633.39 275.12,635.14 297.69,637.19 365.40,646.40" fill="none" stroke="#20f0f0" stroke-width="0.7" stroke-dasharray="1 1" stroke-opacity="0.9"/>
<path d="M212.10 621.60L214.70 624.20L212.10 626.80L209.50 624.20Z" fill="#00f0f0"/>
<path d="M229.97 623.47L232.57 626.07L229.97 628.67L227.37 626.07Z" fill="#00f0f0"/>
<path d="M252.54 630.79L255.14 633.39L252.54 635.99L249.94 633.39Z" fill="#00f0f0"/>
<path d="M275.12 632.54L277.72 635.14L275.12 637.74L272.52 635.14Z" fill="#00f0f0"/>
<path d="M297.69 634.59L300.29 637.19L297.69 639.79L295.09 637.19Z" fill="#00f0f0"/>
<path d="M365.40 643.80L368.00 646.40L365.40 649.00L362.80 646.40Z" fill="#00f0f0"/>
<polyline points="212.10,533.64 229.97,553.39 252.54,585.42 275.12,590.68 297.69,592.44 365.40,618.00" fill="none" stroke="#2020f0" stroke-width="1.15" stroke-opacity="1"/>
<circle cx="212.10" cy="533.64" r="1.70" fill="#0000f0"/>
<circle cx="229.97" cy="553.39" r="1.70" fill="#0000f0"/>
<circle cx="252.54" cy="585.42" r="1.70" fill="#0000f0"/>
<circle cx="275.12" cy="590.68" r="1.70" fill="#0000f0"/>
<circle cx="297.69" cy="592.44" r="1.70" fill="#0000f0"/>
<circle cx="365.40" cy="618.00" r="1.70" fill="#0000f0"/>
<rect x="204.5" y="528.2" width="169.50" height="125.50" fill="none" stroke="#949494" stroke-width="0.9"/>
<line x1="207.40" y1="653.7" x2="207.40" y2="655.8000000000001" stroke="#949494" stroke-width="0.8"/>
<text x="207.40" y="664.70" font-size="9.05" text-anchor="middle" fill="#141414">0</text>
<line x1="226.21" y1="653.7" x2="226.21" y2="655.8000000000001" stroke="#949494" stroke-width="0.8"/>
<text x="226.21" y="664.70" font-size="9.05" text-anchor="middle" fill="#141414">20</text>
<line x1="245.02" y1="653.7" x2="245.02" y2="655.8000000000001" stroke="#949494" stroke-width="0.8"/>
<text x="245.02" y="664.70" font-size="9.05" text-anchor="middle" fill="#141414">40</text>
<line x1="263.83" y1="653.7" x2="263.83" y2="655.8000000000001" stroke="#949494" stroke-width="0.8"/>
<text x="263.83" y="664.70" font-size="9.05" text-anchor="middle" fill="#141414">60</text>
<line x1="282.64" y1="653.7" x2="282.64" y2="655.8000000000001" stroke="#949494" stroke-width="0.8"/>
<text x="282.64" y="664.70" font-size="9.05" text-anchor="middle" fill="#141414">80</text>
<line x1="301.45" y1="653.7" x2="301.45" y2="655.8000000000001" stroke="#949494" stroke-width="0.8"/>
<text x="301.45" y="664.70" font-size="9.05" text-anchor="middle" fill="#141414">100</text>
<line x1="320.26" y1="653.7" x2="320.26" y2="655.8000000000001" stroke="#949494" stroke-width="0.8"/>
<text x="320.26" y="664.70" font-size="9.05" text-anchor="middle" fill="#141414">120</text>
<line x1="339.07" y1="653.7" x2="339.07" y2="655.8000000000001" stroke="#949494" stroke-width="0.8"/>
<text x="339.07" y="664.70" font-size="9.05" text-anchor="middle" fill="#141414">140</text>
<line x1="357.88" y1="653.7" x2="357.88" y2="655.8000000000001" stroke="#949494" stroke-width="0.8"/>
<text x="357.88" y="664.70" font-size="9.05" text-anchor="middle" fill="#141414">160</text>
<line x1="202.4" y1="652.40" x2="204.5" y2="652.40" stroke="#949494" stroke-width="0.8"/>
<text x="200.30" y="655.66" font-size="9.05" text-anchor="end" fill="#141414">0.0</text>
<line x1="202.4" y1="637.77" x2="204.5" y2="637.77" stroke="#949494" stroke-width="0.8"/>
<text x="200.30" y="641.03" font-size="9.05" text-anchor="end" fill="#141414">0.5</text>
<line x1="202.4" y1="623.15" x2="204.5" y2="623.15" stroke="#949494" stroke-width="0.8"/>
<text x="200.30" y="626.41" font-size="9.05" text-anchor="end" fill="#141414">1.0</text>
<line x1="202.4" y1="608.52" x2="204.5" y2="608.52" stroke="#949494" stroke-width="0.8"/>
<text x="200.30" y="611.78" font-size="9.05" text-anchor="end" fill="#141414">1.5</text>
<line x1="202.4" y1="593.90" x2="204.5" y2="593.90" stroke="#949494" stroke-width="0.8"/>
<text x="200.30" y="597.16" font-size="9.05" text-anchor="end" fill="#141414">2.0</text>
<line x1="202.4" y1="579.27" x2="204.5" y2="579.27" stroke="#949494" stroke-width="0.8"/>
<text x="200.30" y="582.53" font-size="9.05" text-anchor="end" fill="#141414">2.5</text>
<line x1="202.4" y1="564.65" x2="204.5" y2="564.65" stroke="#949494" stroke-width="0.8"/>
<text x="200.30" y="567.91" font-size="9.05" text-anchor="end" fill="#141414">3.0</text>
<line x1="202.4" y1="550.02" x2="204.5" y2="550.02" stroke="#949494" stroke-width="0.8"/>
<text x="200.30" y="553.28" font-size="9.05" text-anchor="end" fill="#141414">3.5</text>
<line x1="202.4" y1="535.40" x2="204.5" y2="535.40" stroke="#949494" stroke-width="0.8"/>
<text x="200.30" y="538.66" font-size="9.05" text-anchor="end" fill="#141414">4.0</text>
<text x="288.25" y="675.4" font-size="9" text-anchor="middle" fill="#141414">time, h</text>
<text transform="translate(181 591.95) rotate(-90)" font-size="9" text-anchor="middle" fill="#141414">Mean DAR</text>
<rect x="221.6" y="696.9" width="133.00" height="59.30" rx="1.8" fill="#fff" stroke="#dedede" stroke-width="0.8"/>
<line x1="225" y1="704.7" x2="245" y2="704.7" stroke="#ff2020" stroke-width="0.7" stroke-dasharray="1 1" stroke-opacity="0.8"/>
<path d="M235.00 703.00L236.70 706.40L233.30 706.40Z" fill="#ff2020"/>
<text x="253" y="708.07" font-size="9.35" fill="#141414">HC mean DAR</text>
<line x1="225" y1="718.8" x2="245" y2="718.8" stroke="#109020" stroke-width="0.7" stroke-dasharray="1 1" stroke-opacity="0.8"/>
<circle cx="235.00" cy="718.80" r="1.45" fill="#008000"/>
<text x="253" y="722.17" font-size="9.35" fill="#141414">LC-HC mean DAR</text>
<line x1="225" y1="733.1" x2="245" y2="733.1" stroke="#20f0f0" stroke-width="0.7" stroke-dasharray="1 1" stroke-opacity="0.9"/>
<path d="M235.00 730.50L237.60 733.10L235.00 735.70L232.40 733.10Z" fill="#00f0f0"/>
<text x="253" y="736.47" font-size="9.35" fill="#141414">LC mean DAR</text>
<line x1="225" y1="747.4" x2="245" y2="747.4" stroke="#2020f0" stroke-width="1.15" stroke-opacity="1"/>
<circle cx="235.00" cy="747.40" r="1.70" fill="#0000f0"/>
<text x="253" y="750.77" font-size="9.35" fill="#141414">Total ADC mean DAR</text>
</g>
</svg>
</body></html>
